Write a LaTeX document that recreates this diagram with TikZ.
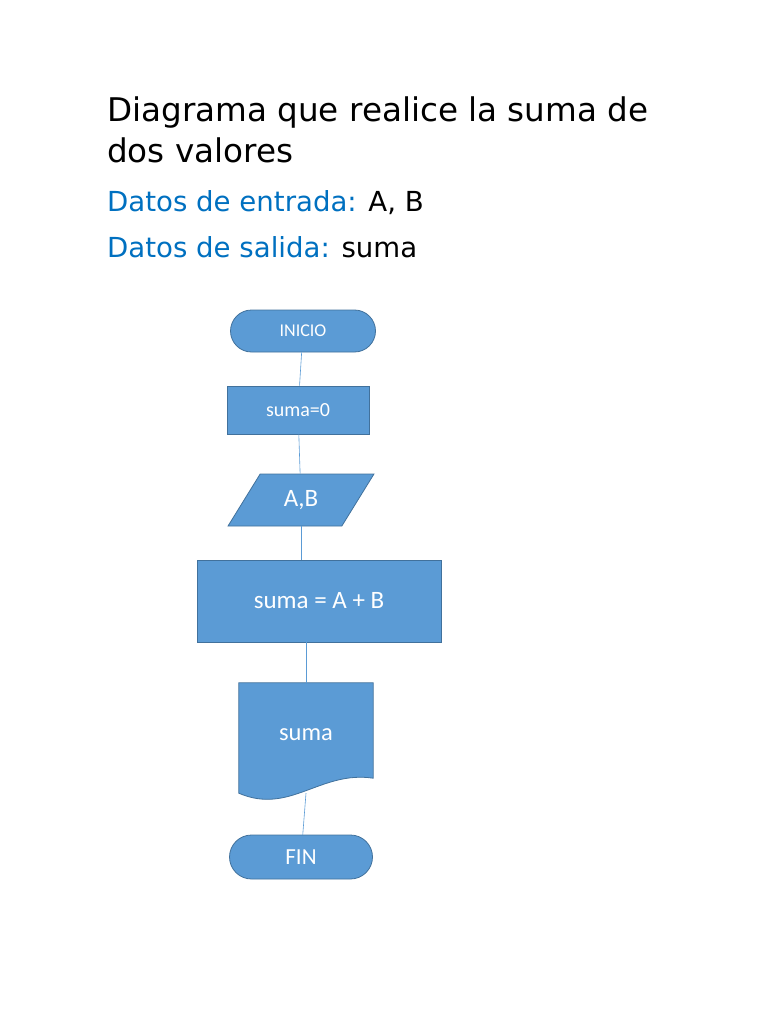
\documentclass[tikz,border=0pt]{standalone}
\usepackage{fontspec}
\setmainfont{DejaVu Sans}
\newfontfamily\calibri{Carlito}
\usetikzlibrary{shapes.geometric,backgrounds}
\definecolor{officeblue}{HTML}{5B9BD5}
\definecolor{officeedge}{HTML}{41719C}
\definecolor{headblue}{HTML}{0070C0}
\begin{document}
\begin{tikzpicture}[x=1pt,y=-1pt,
    box/.style={draw=officeedge, fill=officeblue, line width=0.8pt, text=white},
    term/.style={box, rectangle, rounded corners=21pt, minimum width=145pt, minimum height=42pt},
    proc/.style={box, rectangle},
    io/.style={box, trapezium, trapezium left angle=58, trapezium right angle=122, trapezium stretches=true},
    flow/.style={draw=officeblue, line width=0.6pt},
    head/.style={anchor=base west, inner sep=0pt}]
    \useasboundingbox (0,0) rectangle (768,1024);

    \node[head, font=\fontsize{32.6}{38}\selectfont] (title) at (107,122) {Diagrama que realice la suma de};
    \node[head, font=\fontsize{32.6}{38}\selectfont] (title2) at (107,163) {dos valores};
    \node[head, font=\fontsize{27.6}{33}\selectfont] (inp) at (107,212) {\textcolor{headblue}{Datos de entrada:} A, B};
    \node[head, font=\fontsize{27.6}{33}\selectfont] (outp) at (107,258) {\textcolor{headblue}{Datos de salida:} suma};

    \node[term, font=\calibri\fontsize{18}{22}\selectfont] (inicio) at (303,331) {INICIO};
    \node[proc, minimum width=142pt, minimum height=48pt, font=\calibri\fontsize{20}{24}\selectfont] (init) at (298,410) {suma=0};
    \node[io, minimum width=146pt, minimum height=52pt, font=\calibri\fontsize{25}{30}\selectfont] (read) at (301,500) {A,B};
    \node[proc, minimum width=244pt, minimum height=82pt, font=\calibri\fontsize{25}{30}\selectfont] (calc) at (319,601) {suma = A + B};
    \node[inner sep=0pt, minimum width=134pt, minimum height=110pt, text=white, font=\calibri\fontsize{24.5}{29}\selectfont] (out) at (306,738) {\raisebox{6pt}{suma}};
    \node[term, minimum width=143pt, minimum height=44pt, rounded corners=22pt, font=\calibri\fontsize{23}{28}\selectfont] (fin) at (301,857) {FIN};

    \begin{scope}[on background layer]
        \draw[box] (out.north west) -- (out.south west) .. controls +(51,22) and +(-53,-8) .. ([yshift=15pt]out.south east) -- (out.north east) -- cycle;
    \end{scope}

    \draw[flow] (inicio) -- (init);
    \draw[flow] (init) -- (read);
    \draw[flow] (read.south) -- (read.south |- calc.north);
    \draw[flow] (calc.south -| out.north) -- (out.north);
    \draw[flow] (out.south) -- (fin);
\end{tikzpicture}
\end{document}
